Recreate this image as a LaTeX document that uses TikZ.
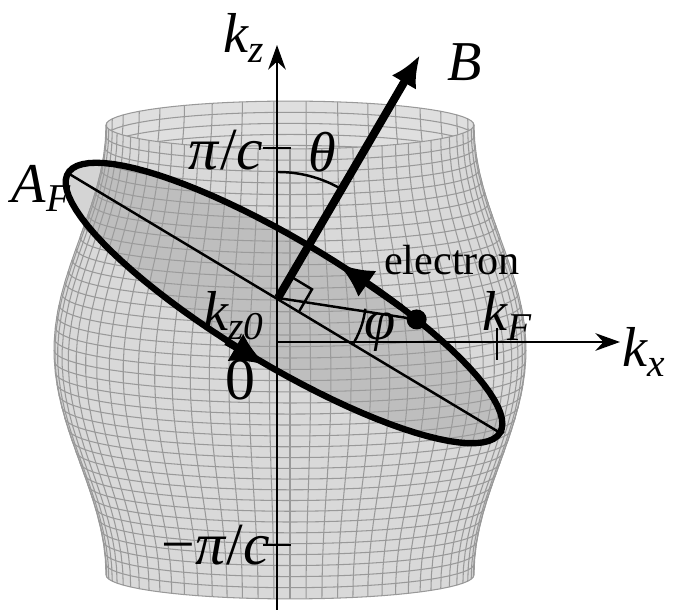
\documentclass[tikz,border=0pt]{standalone}
\usepackage{fontspec}
\setmainfont{Liberation Serif}
\usetikzlibrary{arrows.meta,positioning,calc}
\tikzset{
  declare function={cylr(\t)=210-26*cos(360*\t);
    ex(\s)=284+252*cos(\s)*cos(31)-62*sin(\s)*sin(31);
    ey(\s)=303+252*cos(\s)*sin(31)+62*sin(\s)*cos(31);},
  grid/.style={draw=gray!80, line width=0.3pt},
  axis/.style={line width=0.7pt, -{Stealth[length=7pt,width=5pt]}},
  lbl/.style={font=\fontsize{16}{16}\selectfont\itshape, inner sep=1pt},
  orbit/.style={line width=1.8pt},
  dir/.style={-{Latex[length=10pt,width=9pt]}, line width=1.8pt},
}
\begin{document}
\begin{tikzpicture}[x=0.01cm, y=-0.01cm]
        \useasboundingbox (0,0) rectangle (685,610);
        % back wall of the cylinder
        \fill[gray!25] plot[domain=0:-180, samples=60, variable=\a]
            ({290+cylr(0)*cos(\a)},{125+0.13*cylr(0)*sin(\a)})
          -- plot[domain=0:1, samples=40, variable=\t] ({290-cylr(\t)},{125+450*\t})
          -- plot[domain=180:0, samples=60, variable=\a]
            ({290+cylr(1)*cos(\a)},{575+0.13*cylr(1)*sin(\a)})
          -- plot[domain=1:0, samples=40, variable=\t] ({290+cylr(\t)},{125+450*\t}) -- cycle;
        \foreach \a in {185,195,...,355} {
            \draw[grid] plot[domain=0:0.25, samples=12, variable=\t]
              ({290+cylr(\t)*cos(\a)},{125+450*\t+0.13*cylr(\t)*sin(\a)});
        }
        \foreach \i in {0,...,10} {
            \draw[grid] plot[domain=180:360, samples=37, variable=\a]
              ({290+cylr(\i/40)*cos(\a)},{125+11.25*\i+0.13*cylr(\i/40)*sin(\a)});
        }
        % front wall of the cylinder
        \fill[gray!30] plot[domain=0:180, samples=60, variable=\a]
            ({290+cylr(0)*cos(\a)},{125+0.13*cylr(0)*sin(\a)})
          -- plot[domain=0:1, samples=40, variable=\t] ({290-cylr(\t)},{125+450*\t})
          -- plot[domain=180:0, samples=60, variable=\a]
            ({290+cylr(1)*cos(\a)},{575+0.13*cylr(1)*sin(\a)})
          -- plot[domain=1:0, samples=40, variable=\t] ({290+cylr(\t)},{125+450*\t}) -- cycle;
        \foreach \a in {0,5,...,180} {
            \draw[grid] plot[domain=0:1, samples=30, variable=\t]
              ({290+cylr(\t)*cos(\a)},{125+450*\t+0.13*cylr(\t)*sin(\a)});
        }
        \foreach \i in {0,...,40} {
            \draw[grid] plot[domain=0:180, samples=37, variable=\a]
              ({290+cylr(\i/40)*cos(\a)},{125+11.25*\i+0.13*cylr(\i/40)*sin(\a)});
        }
        % orbit area A_F
        \fill[gray!75, opacity=0.45] plot[domain=0:360, samples=90, variable=\s] ({ex(\s)},{ey(\s)}) -- cycle;
        % axes
        \coordinate (kz0) at (278,298);
        \coordinate (zbot) at (277,610);
        \coordinate (ztop) at (277,45);
        \coordinate (o) at (277,342);
        \coordinate (xend) at (620,342);
        \draw[axis] (zbot) -- (ztop);
        \draw[axis] (o) -- (xend);
        \draw[line width=0.7pt] (263,148) -- (291,148);
        \draw[line width=0.7pt] (263,545) -- (291,545);
        \draw[line width=0.7pt] (497,328) -- (497,360);
        % major axis and electron radius
        \coordinate (aleft) at ({ex(180)},{ey(180)});
        \coordinate (aright) at ({ex(0)},{ey(0)});
        \coordinate (el) at ({ex(-61)},{ey(-61)});
        \draw[line width=0.7pt] (aleft) -- (aright);
        \draw[line width=0.7pt] (kz0) -- (el);
        % angles
        \draw[line width=0.7pt] plot[domain=-90:-59.5, samples=20, variable=\p] ({278+126*cos(\p)},{298+126*sin(\p)});
        \draw[line width=0.7pt] plot[domain=7:31, samples=20, variable=\p] ({278+88*cos(\p)},{298+88*sin(\p)});
        \draw[line width=0.7pt] ($(kz0)+(21.4,12.9)$) -- ++(12.6,-21.6) -- ++(-21.4,-12.9);
        % orbit
        \draw[orbit] plot[domain=0:360, samples=90, variable=\s] ({ex(\s)},{ey(\s)}) -- cycle;
        \coordinate (lowtail) at (226,342);
        \coordinate (lowtip) at (266,365);
        \draw[dir] (lowtail) -- (lowtip);
        \draw[dir] ({ex(-66)},{ey(-66)}) -- ({ex(-84)},{ey(-84)});
        \fill (el) circle (10);
        % field
        \coordinate (btip) at (420,55);
        \draw[line width=2.3pt, -{Latex[length=9pt,width=8pt]}] (kz0) -- (btip);
        % labels
        \node[lbl] (lkz) at (245,38) {k\textsubscript{z}};
        \node[lbl] (lkx) at (645,352) {k\textsubscript{x}};
        \node[lbl] (lB) at (465,62) {B};
        \node[lbl] (lAF) at (42,188) {A\textsubscript{F}};
        \node[lbl, font=\fontsize{17}{17}\selectfont] (lpi) at (226,150) {\textit{π}/\textit{c}};
        \node[lbl] (lth) at (322,152) {θ};
        \node[lbl, font=\fontsize{17}{17}\selectfont] (lmpi) at (216,545) {−\textit{π}/\textit{c}};
        \node[lbl] (lkz0) at (234,316) {k\textsubscript{z0}};
        \node[lbl, font=\fontsize{17}{17}\selectfont] (lzero) at (240,380) {0};
        \node[lbl] (lphi) at (380,332) {φ};
        \node[lbl, font=\fontsize{12}{12}\selectfont] (lel) at (452,260) {electron};
        \node[lbl] (lkF) at (508,316) {k\textsubscript{F}};
    \end{tikzpicture}
\end{document}
